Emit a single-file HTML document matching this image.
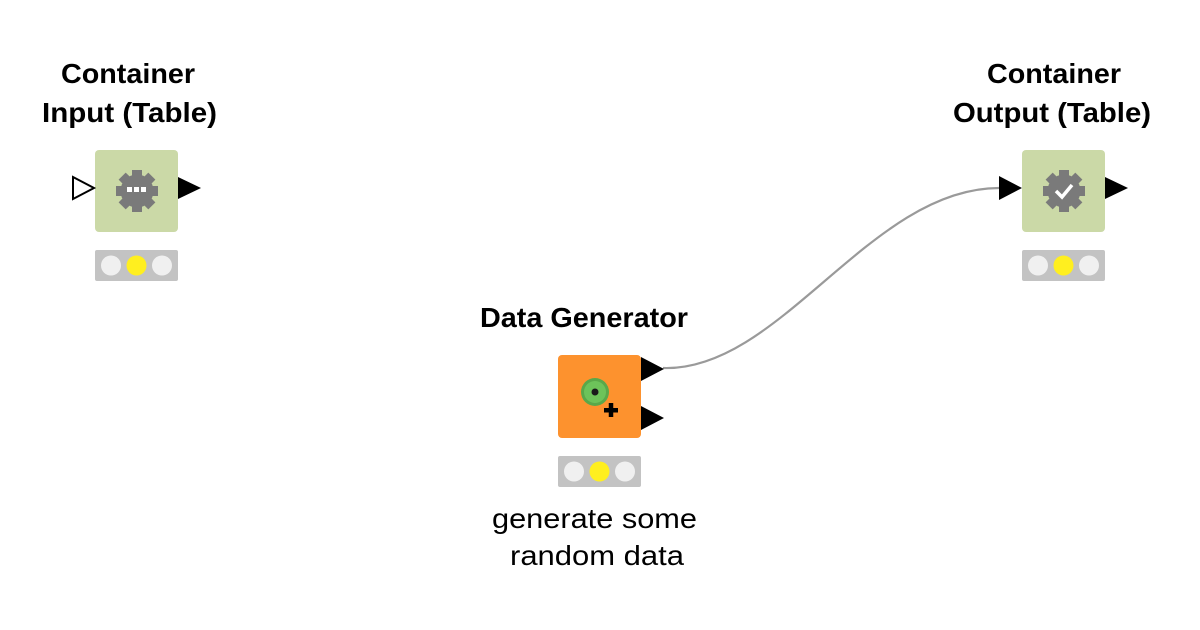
<!DOCTYPE html>
<html><head><meta charset="utf-8"><style>
html,body{margin:0;padding:0;background:#fff;width:1200px;height:630px;overflow:hidden}
</style></head><body>
<svg width="1200" height="630" viewBox="0 0 1200 630" xmlns="http://www.w3.org/2000/svg">
<defs>
<g id="gear">
<circle cx="0" cy="0" r="16.5" fill="#7a7a7a"/>
<g fill="#7a7a7a">
<rect x="-5" y="-21" width="10" height="42"/>
<rect x="-21" y="-5" width="42" height="10"/>
<rect x="-5" y="-21" width="10" height="42" transform="rotate(45)"/>
<rect x="-5" y="-21" width="10" height="42" transform="rotate(-45)"/>
</g>
</g>
<g id="tl">
<rect x="0" y="0" width="83" height="31" rx="2" fill="#c3c3c3"/>
<circle cx="16" cy="15.5" r="10" fill="#f0f0f0"/>
<circle cx="41.5" cy="15.5" r="10" fill="#ffef1f"/>
<circle cx="67" cy="15.5" r="10" fill="#f0f0f0"/>
</g>
</defs>

<g font-family="Liberation Sans, sans-serif" font-weight="bold" font-size="27.5" fill="#000">
<text x="61" y="83" textLength="134" lengthAdjust="spacingAndGlyphs">Container</text>
<text x="42" y="122" textLength="175" lengthAdjust="spacingAndGlyphs">Input (Table)</text>
<text x="987" y="83" textLength="134" lengthAdjust="spacingAndGlyphs">Container</text>
<text x="953" y="122" textLength="198" lengthAdjust="spacingAndGlyphs">Output (Table)</text>
<text x="480" y="327" textLength="208" lengthAdjust="spacingAndGlyphs">Data Generator</text>
</g>
<g font-family="Liberation Sans, sans-serif" font-size="28" fill="#000">
<text x="492" y="528" textLength="205" lengthAdjust="spacingAndGlyphs">generate some</text>
<text x="510" y="565" textLength="174" lengthAdjust="spacingAndGlyphs">random data</text>
</g>

<path d="M663 368 C 780 372 870 188 999 188" fill="none" stroke="#9a9a9a" stroke-width="2.2"/>

<rect x="95" y="150" width="83" height="82" rx="4" fill="#cbd9a7"/>
<use href="#gear" x="137" y="191"/>
<rect x="127" y="187" width="5" height="5" fill="#fff"/>
<rect x="134" y="187" width="5" height="5" fill="#fff"/>
<rect x="141" y="187" width="5" height="5" fill="#fff"/>
<polygon points="73,177 94,188 73,199" fill="#fff" stroke="#000" stroke-width="2"/>
<polygon points="178,177 201,188 178,199" fill="#000"/>
<use href="#tl" x="95" y="250"/>

<rect x="1022" y="150" width="83" height="82" rx="4" fill="#cbd9a7"/>
<use href="#gear" x="1064" y="191"/>
<polyline points="1056,191 1062,197 1072,185" fill="none" stroke="#fff" stroke-width="3.5"/>
<polygon points="999,176 1022,188 999,200" fill="#000"/>
<polygon points="1105,177 1128,188 1105,199" fill="#000"/>
<use href="#tl" x="1022" y="250"/>

<rect x="558" y="355" width="83" height="83" rx="4" fill="#fd922e"/>
<circle cx="595" cy="392" r="14" fill="#5aa84a"/>
<circle cx="595" cy="392" r="11" fill="#6dc35a"/>
<circle cx="595" cy="392" r="3.5" fill="#1a1a1a"/>
<rect x="604" y="408" width="14" height="4.5" fill="#000"/>
<rect x="608.75" y="403" width="4.5" height="14" fill="#000"/>
<polygon points="641,357 664,369 641,381" fill="#000"/>
<polygon points="641,406 664,418 641,430" fill="#000"/>
<use href="#tl" x="558" y="456"/>
</svg>
</body></html>
